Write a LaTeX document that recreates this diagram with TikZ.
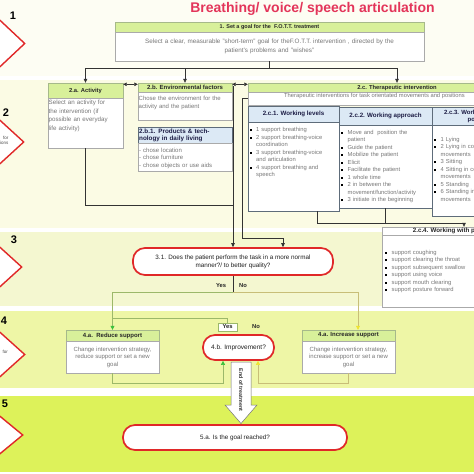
\documentclass[tikz,border=0pt]{standalone}
\usepackage{fontspec}
\setmainfont{Liberation Sans}
\usetikzlibrary{arrows.meta,shapes.geometric}
\definecolor{bandA}{HTML}{FDFDF3}
\definecolor{bandB}{HTML}{FBFBE4}
\definecolor{bandC}{HTML}{F4F7D0}
\definecolor{bandD}{HTML}{EEF6A6}
\definecolor{bandE}{HTML}{DDF25A}
\definecolor{hdrgreen}{HTML}{D8F09A}
\definecolor{hdrbord}{HTML}{A6B98A}
\definecolor{hdrblue}{HTML}{DCE9F5}
\definecolor{subbord}{HTML}{5E6C7A}
\definecolor{bordgray}{HTML}{AAAAAA}
\definecolor{txtgray}{HTML}{777777}
\definecolor{decred}{HTML}{E02828}
\definecolor{titlered}{HTML}{E3355A}
\definecolor{yesline}{HTML}{9CB86A}
\definecolor{yestip}{HTML}{3CC03C}
\definecolor{noline}{HTML}{C8BE78}
\definecolor{notip}{HTML}{EEE430}
\definecolor{navy}{HTML}{1C1C44}
\newcommand\fs[2]{\fontsize{#1}{#2}\selectfont}
\newcommand\bl{\par\noindent\makebox[6.5pt][l]{\textcolor{black}{\rule[0.6pt]{1.8pt}{1.8pt}}}}
\newcommand\cl{\par\noindent\hspace*{6.5pt}}
\begin{document}
\begin{tikzpicture}[x=1pt,y=-1pt,
  hdr/.style={draw=hdrbord, fill=hdrgreen, inner sep=0pt, font=\bfseries\fs{6}{7}, text=black!85, align=center},
  hdrb/.style={draw=subbord, fill=hdrblue, inner sep=0pt, font=\bfseries\fs{6.2}{7}, text=navy, align=center},
  body/.style={draw=bordgray, fill=white, inner sep=0pt},
  sbody/.style={draw=subbord, fill=white, inner sep=0pt},
  txt/.style={inner sep=0pt, text=txtgray, font=\fs{6.2}{8.6}, align=left, anchor=north west},
  ltxt/.style={inner sep=0pt, text=txtgray, font=\fs{5.8}{7.5}, align=left, anchor=north west, text width=200pt},
  ctxt/.style={inner sep=0pt, text=txtgray, font=\fs{6}{7.5}, align=center},
  dec/.style={draw=decred, line width=1.7pt, fill=white, rounded corners=12pt, inner sep=0pt, font=\fs{6.3}{8}, text=black!88, align=center},
  diam/.style={diamond, draw=decred, line width=1.4pt, fill=white, inner sep=0pt},
  num/.style={font=\bfseries\fs{11}{12}, inner sep=0pt},
  lbl/.style={font=\bfseries\fs{5.8}{6}, inner sep=0pt, text=black!85},
  conn/.style={draw=black!80, line width=0.6pt},
  arr/.style={conn, -{Triangle[length=4pt,width=3.6pt]}},
  dbl/.style={conn, {Triangle[length=3.5pt,width=3.5pt]}-{Triangle[length=3.5pt,width=3.5pt]}},
  yl/.style={draw=yesline, line width=0.6pt},
  nl/.style={draw=noline, line width=0.6pt},
  yarr/.style={yl, -{Triangle[length=4pt,width=4pt,color=yestip]}},
  narr/.style={nl, -{Triangle[length=4pt,width=4pt,color=notip]}},
]
\useasboundingbox (0,0) rectangle (474,474);
\clip (0,0) rectangle (474,474);
\fill[white] (0,0) rectangle (474,474);
% bands
\fill[bandA] (0,0) rectangle (474,76);
\fill[bandB] (0,80) rectangle (474,228);
\fill[bandC] (0,232) rectangle (474,306);
\fill[bandD] (0,311) rectangle (474,388);
\fill[bandE] (0,396) rectangle (474,472);

% left diamonds
\node[diam, minimum width=50pt, minimum height=47pt] (dm1) at (0,43.5) {};
\node[diam, minimum width=48pt, minimum height=44pt] (dm2) at (0,142) {};
\node[diam, minimum width=44pt, minimum height=40pt] (dm3) at (0,267) {};
\node[diam, minimum width=50pt, minimum height=45pt] (dm4) at (0,354.5) {};
\node[diam, minimum width=46pt, minimum height=38pt] (dm5) at (0,435) {};
\node[num] (n1) at (13,16) {1};
\node[num] (n2) at (6,113) {2};
\node[num] (n3) at (14,240) {3};
\node[num] (n4) at (4,321) {4};
\node[num] (n5) at (5,404) {5};
\node[anchor=east, font=\fs{4.5}{5.5}, text=black!70, align=right, inner sep=0pt] (dt2) at (8.5,140.5) {for\\actions};
\node[anchor=east, font=\fs{4.5}{5.5}, text=black!70, inner sep=0pt] (dt4) at (8,352) {for};

% title
\node[font=\bfseries\fs{14}{16}, text=titlered, inner sep=0pt] (title) at (312.5,9) {Breathing/ voice/ speech articulation};

% box 1
\node[hdr, minimum width=309pt, minimum height=10pt, font=\bfseries\fs{5.5}{6}] (h1) at (269.5,27) {1. Set a goal for the\ \ F.O.T.T. treatment};
\node[body, minimum width=309pt, minimum height=29pt] (b1) at (269.5,46.5) {};
\node[ctxt, font=\fs{6.3}{9}, text width=305pt] (t1) at (b1.center) {Select a clear, measurable "short-term" goal for theF.O.T.T. intervention , directed by the\\patient's problems and "wishes"};

% row 2 : 2.a
\node[hdr, minimum width=75pt, minimum height=15pt, font=\bfseries\fs{5.8}{7}] (h2a) at (85.5,90.5) {2.a. Activity};
\node[body, minimum width=75pt, minimum height=50pt] (b2a) at (85.5,123) {};
\node[txt, text width=74pt] (t2a) at (48.5,100) {Select an activity for\\the intervention (if\\possible an everyday\\life activity)};

% 2.b
\node[hdr, minimum width=94pt, minimum height=9pt] (h2b) at (185,87.5) {2.b. Environmental factors};
\node[body, minimum width=94pt, minimum height=28pt] (b2b) at (185,106) {};
\node[txt, font=\fs{6}{7.5}, text width=93pt] (t2b) at (138.5,96) {Chose the environment for the\\activity and the patient};
\node[hdrb, minimum width=94pt, minimum height=16pt] (h2b1) at (185,135) {};
\node[txt, text=navy, font=\bfseries\fs{6.3}{7.4}, text width=93pt] (t2b1h) at (139,128.3) {2.b.1. Products \& tech-\\nology in daily living};
\node[body, minimum width=94pt, minimum height=28pt] (b2b1) at (185,157) {};
\node[txt, font=\fs{6}{7.5}, text width=93pt] (t2b1) at (139,147.5) {- chose location\\- chose furniture\\- chose objects or use aids};

% 2.c
\node[hdr, minimum width=298pt, minimum height=9pt, font=\bfseries\fs{5.8}{7}] (h2c) at (397,87.5) {2.c. Therapeutic intervention};
\node[body, minimum width=298pt, minimum height=13pt] (b2c) at (397,98.5) {};
\node[ctxt, font=\fs{5.8}{7}, anchor=west] (t2c) at (284,96.3) {Therapeutic interventions for task orientated movements and positions};

\node[hdrb, minimum width=91pt, minimum height=16pt] (h2c1) at (293.5,114) {2.c.1. Working levels};
\node[sbody, minimum width=91pt, minimum height=89pt] (b2c1) at (293.5,166.5) {};
\node[ltxt] (l2c1) at (249.5,124) {\bl 1 support breathing
 \bl 2 support breathing-voice\cl coordination
 \bl 3 support breathing-voice\cl and articulation
 \bl 4 support breathing and\cl speech};

\node[hdrb, minimum width=93pt, minimum height=18pt] (h2c2) at (385.5,116) {2.c.2. Working approach};
\node[sbody, minimum width=93pt, minimum height=83pt] (b2c2) at (385.5,166.5) {};
\node[ltxt] (l2c2) at (341,126.5) {\bl Move and\ \ position the\cl patient
 \bl Guide the patient
 \bl Mobilize the patient
 \bl Elicit
 \bl Facilitate the patient
 \bl 1 whole time
 \bl 2 in between the\cl movement/function/activity
 \bl 3 initiate in the beginning};

\node[hdrb, minimum width=98pt, minimum height=18pt, font=\bfseries\fs{6}{7}] (h2c3) at (481,116) {2.c.3. Working in different\\positions};
\node[sbody, minimum width=98pt, minimum height=91pt] (b2c3) at (481,170.5) {};
\node[ltxt] (l2c3) at (434,133.5) {\bl 1 Lying
 \bl 2 Lying in combination with\cl movements
 \bl 3 Sitting
 \bl 4 Sitting in combination with\cl movements
 \bl 5 Standing
 \bl 6 Standing in combination with\cl movements};

\node[draw=bordgray, fill=white, inner sep=0pt, minimum width=148pt, minimum height=8pt, font=\bfseries\fs{6.2}{7}, text=black!85] (h2c4) at (456,231) {2.c.4. Working with problems};
\node[body, minimum width=148pt, minimum height=72pt] (b2c4) at (456,271) {};
\node[ltxt] (l2c4) at (385,246.5) {\bl support coughing
 \bl support clearing the throat
 \bl support subsequent swallow
 \bl support using voice
 \bl support mouth clearing
 \bl support posture forward};

% connectors row 1 -> row 2
\draw[arr] (b1.south) -- ++(0,7) -| (h2a.north);
\draw[arr] (b1.south) -- ++(0,7) -| (h2b.north);
\draw[arr] (b1.south) -- ++(0,7) -| (h2c.north);
\draw[dbl] ([yshift=-1.5pt]h2a.north east) -- ([yshift=-1.5pt]h2b.north west);
\draw[dbl] ([yshift=-1.5pt]h2b.north east) -- ([yshift=-1.5pt]h2c.north west);

% 2.c subs -> 2.c.4
\coordinate (j2) at (464,223);
\coordinate (j2s) at (317,211);
\draw[conn] (j2s) |- (j2);
\draw[conn] (b2c2.south) -- (b2c2.south |- j2);
\draw[arr] (j2) -- (j2 |- h2c4.north);

% row 3
\node[dec, minimum width=200pt, minimum height=27pt] (d31) at (233,261.5) {3.1. Does the patient perform the task in a more normal\\manner?/ to better quality?};
\coordinate (j3a) at (233,86);
\coordinate (j2a) at (233,205);
\coordinate (j3c) at (242,238);
\coordinate (j3b) at (283,238);
\draw[conn] (b2a.south) |- (j2a);
\draw[arr] (j3a) -- (d31.north);
\draw[arr] (b2c.west) -| (j3c) -- (j3b) -- (j3b |- d31.north);

\node[lbl] (yes1) at (221,286) {Yes};
\node[lbl] (no1) at (243,286) {No};

% row 4
\node[hdr, minimum width=93pt, minimum height=11pt] (h4a) at (112.5,335.5) {4.a.\ \ Reduce support};
\node[body, minimum width=93pt, minimum height=32pt] (b4a) at (112.5,357) {};
\node[ctxt] (t4a) at (b4a.center) {Change intervention strategy,\\reduce support or set a new\\goal};
\node[hdr, minimum width=93pt, minimum height=11pt] (h4c) at (348.5,335.5) {4.a. Increase support};
\node[body, minimum width=93pt, minimum height=32pt] (b4c) at (348.5,357) {};
\node[ctxt] (t4c) at (b4c.center) {Change intervention strategy,\\increase support or set a new\\goal};
\node[dec, minimum width=71pt, minimum height=25pt, font=\fs{6.5}{8}] (d4b) at (238.5,347.5) {4.b. Improvement?};
\node[draw=yesline, fill=white, line width=0.5pt, minimum width=19pt, minimum height=8pt, inner sep=0pt, font=\bfseries\fs{5.8}{6}, text=black!85] (yes2) at (227.5,327) {Yes};
\node[lbl] (no2) at (256,327) {No};

\coordinate (yn) at (233,292);
\coordinate (j4c) at (358,292);
\coordinate (j4y) at (113,318);
\coordinate (r4a) at (223,383);
\coordinate (r4c) at (258,383);
\draw[conn] (d31.south) -- (yn);
\draw[yarr] (yn) -| (h4a.north);
\draw[narr] (yn) -- (j4c) -- (j4c |- h4c.north);
\draw[yl] (yes2.north) |- (j4y);
\draw[yarr] (b4a.south) |- (r4a) -- (r4a |- d4b.south);
\draw[narr] (b4c.south) |- (r4c) -- (r4c |- d4b.south);

% row 5
\node[dec, minimum width=224pt, minimum height=25pt] (d5a) at (235,437.5) {5.a. Is the goal reached?};
\draw[draw=black!55, fill=white, line width=0.5pt] (231,362) -- (251,362) -- (251,405) -- (257,405) -- (241,423.5) -- (225,405) -- (231,405) -- cycle;
\node[rotate=-90, font=\bfseries\fs{5.3}{6}, inner sep=0pt, text=black!80] (eot) at (241,390) {End of treatment};
\end{tikzpicture}
\end{document}
